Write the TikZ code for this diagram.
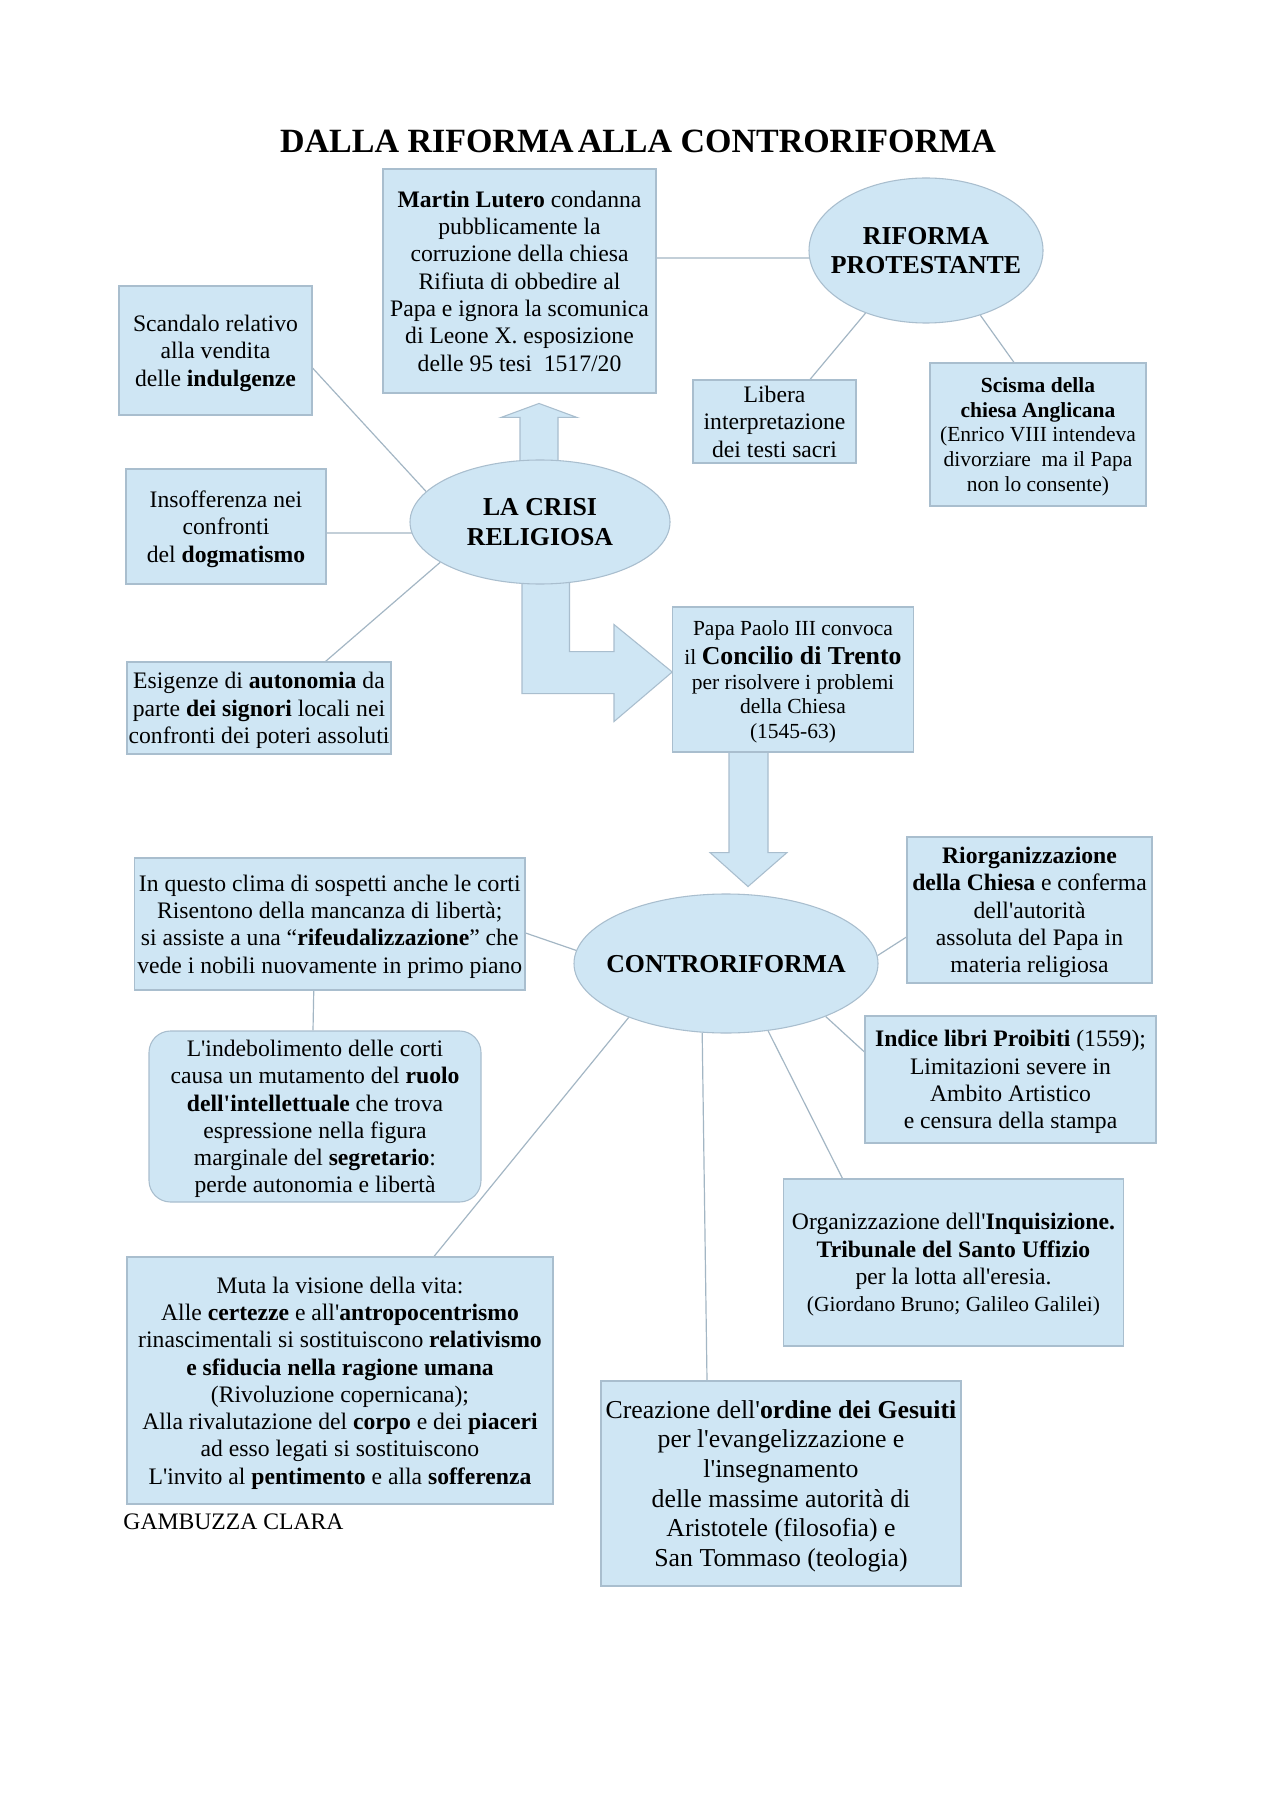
\documentclass[tikz,border=0pt]{standalone}
\usepackage{fontspec}
\setmainfont{Liberation Serif}[Ligatures=TeXOff]
\usetikzlibrary{shapes.geometric,calc,backgrounds}
\definecolor{boxfill}{HTML}{CFE6F4}
\definecolor{boxline}{HTML}{A9BECE}
\definecolor{conn}{HTML}{A3B6C4}
\pgfdeclarelayer{paper}
\pgfsetlayers{paper,background,main}
\begin{document}
\begin{tikzpicture}[x=0.4651pt,y=-0.4651pt,
  sz/.style 2 args={minimum width=#1*0.4651pt, minimum height=#2*0.4651pt},
  box/.style={draw=boxline, fill=boxfill, line width=0.5pt, rectangle, inner sep=0pt, align=center, text depth=-0.8pt, font=\fontsize{11}{12.7}\selectfont},
  oval/.style={draw=boxline, fill=boxfill, line width=0.5pt, ellipse, inner sep=0pt},
  ovaltext/.style={inner sep=0pt, align=center, text depth=-0.8pt, font=\fontsize{12}{13.8}\selectfont\bfseries},
  conline/.style={draw=conn, line width=0.55pt},
  blockarrow/.style={draw=boxline, fill=boxfill, line width=0.5pt, line join=miter}]

\begin{pgfonlayer}{paper}
\fill[white] (0,0) rectangle (1280,1811);
\end{pgfonlayer}
\useasboundingbox (0,0) rectangle (1280,1811);

% title
\node[anchor=base, inner sep=0pt, font=\fontsize{15.8}{18.5}\selectfont\bfseries] (title) at (638,153) {DALLA RIFORMA\kern-2pt\ ALLA CONTRORIFORMA};

% upper part
\node[box, sz={273}{224}] (mart) at (519.5,281) {\textbf{Martin Lutero} condanna\\ pubblicamente la\\ corruzione della chiesa\\ Rifiuta di obbedire al\\ Papa e ignora la scomunica\\ di Leone X. esposizione\\ delle 95 tesi\ \ 1517/20};
\node[box, sz={193}{129}] (scand) at (215.5,350.5) {Scandalo relativo\\ alla vendita\\ delle \textbf{indulgenze}};
\node[box, sz={200}{115}] (insof) at (226,526.5) {Insofferenza nei\\ confronti\\ del \textbf{dogmatismo}};
\node[box, sz={264}{92}] (esig) at (259,708) {Esigenze di \textbf{autonomia} da\\ parte \textbf{dei signori} locali nei\\ confronti dei poteri assoluti};
\node[oval, sz={260}{124}] (crisi) at (540,522) {};
\node[ovaltext] (crisit) at (crisi.center) {LA CRISI\\ RELIGIOSA};
\node[oval, sz={234}{145}] (rif) at (926,250.5) {};
\node[ovaltext] (rift) at (rif.center) {RIFORMA\\ PROTESTANTE};
\node[box, sz={163}{83}] (libera) at (774.5,421.5) {Libera\\ interpretazione\\ dei testi sacri};
\node[box, sz={216}{143}, font=\fontsize{10}{11.5}\selectfont] (scisma) at (1038,434.5) {\textbf{Scisma della}\\ \textbf{chiesa Anglicana}\\ (Enrico VIII intendeva\\ divorziare\ \ ma il Papa\\ non lo consente)};
\node[box, sz={240.5}{145}, font=\fontsize{10}{11.5}\selectfont] (papa) at (793,679.5) {Papa Paolo III convoca\\[2pt] il {\fontsize{12}{13.8}\selectfont\bfseries Concilio di Trento}\\ per risolvere i problemi\\ della Chiesa\\ (1545-63)};

% lower part
\node[oval, sz={304}{139}] (contro) at (726,963.5) {};
\node[ovaltext] (controt) at (contro.center) {CONTRORIFORMA};
\node[box, sz={245}{146}] (rior) at (1029.5,910) {\textbf{Riorganizzazione}\\ \textbf{della Chiesa} e conferma\\ dell'autorità\\ assoluta del Papa in\\ materia religiosa};
\node[box, sz={291}{127}] (indice) at (1010.5,1079.5) {\textbf{Indice libri Proibiti} (1559);\\ Limitazioni severe in\\ Ambito Artistico\\ e censura della stampa};
\node[box, sz={390.5}{132}] (inq) at (329.75,924) {In questo clima di sospetti anche le corti\\ Risentono della mancanza di libertà;\\ si assiste a una “\textbf{rifeudalizzazione}” che\\ vede i nobili nuovamente in primo piano};
\node[box, sz={332}{171}, rounded corners=10pt] (indeb) at (315,1116.5) {L'indebolimento delle corti\\ causa un mutamento del \textbf{ruolo}\\ \textbf{dell'intellettuale} che trova\\ espressione nella figura\\ marginale del \textbf{segretario}:\\ perde autonomia e libertà};
\node[box, sz={426}{247}] (muta) at (340,1380.5) {Muta la visione della vita:\\ Alle \textbf{certezze} e all'\textbf{antropocentrismo}\\ rinascimentali si sostituiscono \textbf{relativismo}\\ \textbf{e sfiducia nella ragione umana}\\ (Rivoluzione copernicana);\\ Alla rivalutazione del \textbf{corpo} e dei \textbf{piaceri}\\ ad esso legati si sostituiscono\\ L'invito al \textbf{pentimento} e alla \textbf{sofferenza}};
\node[box, sz={340}{167}] (inqu) at (953.5,1262.5) {Organizzazione dell'\textbf{Inquisizione.}\\ \textbf{Tribunale del Santo Uffizio}\\ per la lotta all'eresia.\\ {\fontsize{10}{11.5}\selectfont (Giordano Bruno; Galileo Galilei)}};
\node[box, sz={360}{205}, font=\fontsize{12}{13.8}\selectfont] (crea) at (781,1483.5) {Creazione dell'\textbf{ordine dei Gesuiti}\\ per l'evangelizzazione e\\ l'insegnamento\\ delle massime autorità di\\ Aristotele (filosofia) e\\ San Tommaso (teologia)};
\node[anchor=base west, inner sep=0pt, font=\fontsize{11}{12.7}\selectfont] (author) at (123,1529) {GAMBUZZA CLARA};

\begin{pgfonlayer}{background}
% block arrows
\path[blockarrow] ($(crisi.north)+(-20,10)$) -- ($(crisi.north)+(-20,-42)$) -- ($(crisi.north)+(-39,-42)$) -- ($(crisi.north)+(-1,-56)$) -- ($(crisi.north)+(37,-42)$) -- ($(crisi.north)+(18,-42)$) -- ($(crisi.north)+(18,10)$) -- cycle;
\path[blockarrow] ($(crisi.south)+(-18,-9)$) -- ($(crisi.south)+(-18,109)$) -- ($(crisi.south)+(74,109)$) -- ($(crisi.south)+(74,137)$) -- ($(papa.west)+(0,-7.5)$) -- ($(crisi.south)+(74,40)$) -- ($(crisi.south)+(74,67)$) -- ($(crisi.south)+(29.5,67)$) -- ($(crisi.south)+(29.5,-9)$) -- cycle;
\path[blockarrow] ($(papa.south)+(-64,-7)$) -- ($(papa.south)+(-64,100)$) -- ($(papa.south)+(-83,100)$) -- ($(papa.south)+(-45,134)$) -- ($(papa.south)+(-6,100)$) -- ($(papa.south)+(-25,100)$) -- ($(papa.south)+(-25,-7)$) -- cycle;
% connectors
\draw[conline] ($(scand.east)+(0,17.5)$) -- (crisi.165);
\draw[conline] ($(insof.east)+(0,6.5)$) -- ($(crisi.center)+(0,11)$);
\draw[conline] ($(esig.north)+(66.5,0)$) -- (crisi.202);
\draw[conline] ($(mart.east)+(0,-23)$) -- ($(rif.center)+(0,7.5)$);
\draw[conline] (rif.226) -- ($(libera.north)+(35.5,0)$);
\draw[conline] (rif.310) -- ($(scisma.north)+(-24,0)$);
\draw[conline] ($(inq.east)+(0,9)$) -- (contro.175);
\draw[conline] ($(inq.south)+(-16,0)$) -- ($(indeb.north)+(-2,0)$);
\draw[conline] (contro.209) -- ($(muta.north)+(94,0)$);
\draw[conline] (contro.3) -- ($(rior.west)+(0,27)$);
\draw[conline] (contro.332) -- ($(indice.west)+(0,-27.5)$);
\draw[conline] (contro.251) -- ($(crea.north)+(-74,0)$);
\draw[conline] (contro.302) -- ($(inqu.north)+(-111,0)$);
\end{pgfonlayer}
\end{tikzpicture}
\end{document}
